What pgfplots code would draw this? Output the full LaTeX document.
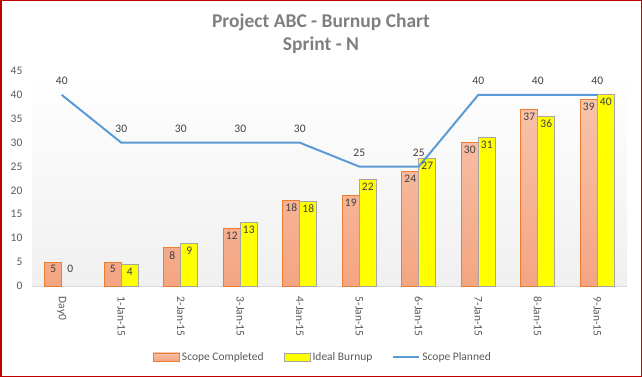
\documentclass[border=0pt]{standalone}
\usepackage{pgfplots}
\pgfplotsset{compat=1.18}
\usepackage{fontspec}
\setmainfont{Carlito}
\definecolor{bordred}{HTML}{C00000}
\definecolor{titlegray}{HTML}{7F7F7F}
\definecolor{ticktext}{HTML}{595959}
\definecolor{labeltext}{HTML}{404040}
\definecolor{compTop}{HTML}{F8C3AB}
\definecolor{compBot}{HTML}{F4A582}
\definecolor{compEdge}{HTML}{ED7D31}
\definecolor{idealFill}{HTML}{FFFF00}
\definecolor{idealEdge}{HTML}{A5A5A5}
\definecolor{planLine}{HTML}{5B9BD5}
\definecolor{axisgray}{HTML}{D9D9D9}
\begin{document}
\begin{tikzpicture}
\draw[bordred, line width=1.5pt] (0.75pt,-0.75pt) rectangle (641.25pt,-376.25pt);
\node[font=\bfseries\fontsize{19.5}{22}\selectfont, text=titlegray] at (321pt,-22pt) {Project ABC - Burnup Chart};
\node[font=\bfseries\fontsize{19.5}{22}\selectfont, text=titlegray] at (321pt,-45pt) {Sprint - N};
\begin{axis}[
  at={(32pt,-286pt)}, anchor=south west,
  scale only axis, width=595pt, height=215pt,
  xmin=-0.5, xmax=9.5, ymin=0, ymax=45,
  ytick={0,5,...,45},
  xtick={0,...,9},
  xticklabels={Day0,1-Jan-15,2-Jan-15,3-Jan-15,4-Jan-15,5-Jan-15,6-Jan-15,7-Jan-15,8-Jan-15,9-Jan-15},
  axis lines=left,
  x axis line style={draw=axisgray, line width=1pt, -},
  y axis line style={draw=none},
  tick style={draw=none},
  axis background/.style={shade, top color=white, bottom color=black!6},
  /pgf/number format/assume math mode=true,
  ticklabel style={font=\fontsize{11.5}{13}\selectfont, text=ticktext},
  x tick label style={rotate=-90, anchor=west, xshift=0pt},
  xticklabel shift=5pt,
  yticklabel shift=4pt,
  legend style={at={(0.489,-0.33)}, anchor=center, draw=none, fill=none,
    legend columns=3, font=\fontsize{11.5}{13}\selectfont, text=ticktext,
    /tikz/every even column/.append style={column sep=18pt}},
  legend cell align=left,
  every node near coord/.append style={font=\fontsize{11.5}{13}\selectfont, text=labeltext},
  nodes near coords={\pgfmathprintnumber[fixed,precision=0]{\pgfplotspointmeta}},
]
\addplot[ybar, bar width=17pt, bar shift=-8.5pt, draw=compEdge, line width=0.9pt,
  top color=compTop, bottom color=compBot,
  every node near coord/.append style={anchor=north, xshift=-8.5pt, yshift=-1pt, inner sep=2pt},
  legend image code/.code={\draw[draw=compEdge, line width=0.9pt, top color=compTop, bottom color=compBot] (0pt,-4pt) rectangle (26pt,4pt);}]
  coordinates {(0,5) (1,5) (2,8) (3,12) (4,18) (5,19) (6,24) (7,30) (8,37) (9,39)};
\addlegendentry{Scope Completed}
\addplot[ybar, bar width=17pt, bar shift=8.5pt, draw=idealEdge, line width=0.9pt,
  fill=idealFill,
  every node near coord/.append style={anchor=north, xshift=8.5pt, yshift=-1pt, inner sep=2pt},
  legend image code/.code={\draw[draw=idealEdge, line width=0.9pt, fill=idealFill] (0pt,-4pt) rectangle (26pt,4pt);}]
  coordinates {(1,4.44) (2,8.89) (3,13.33) (4,17.78) (5,22.22) (6,26.67) (7,31.11) (8,35.56) (9,40)};
\addlegendentry{Ideal Burnup}
\addplot[planLine, line width=2pt, mark=none,
  every node near coord/.append style={anchor=south, yshift=7pt, inner sep=2pt},
  legend image code/.code={\draw[planLine, line width=2pt] (0pt,0pt) -- (26pt,0pt);}]
  coordinates {(0,40) (1,30) (2,30) (3,30) (4,30) (5,25) (6,25) (7,40) (8,40) (9,40)};
\addlegendentry{Scope Planned}
\addplot[ybar, bar width=17pt, bar shift=8.5pt, draw=none, fill=none, forget plot,
  point meta=explicit symbolic, nodes near coords,
  every node near coord/.append style={anchor=north, xshift=8.5pt, yshift=-1pt, inner sep=2pt}]
  coordinates {(0,5) [0]};
\end{axis}
\end{tikzpicture}
\end{document}
